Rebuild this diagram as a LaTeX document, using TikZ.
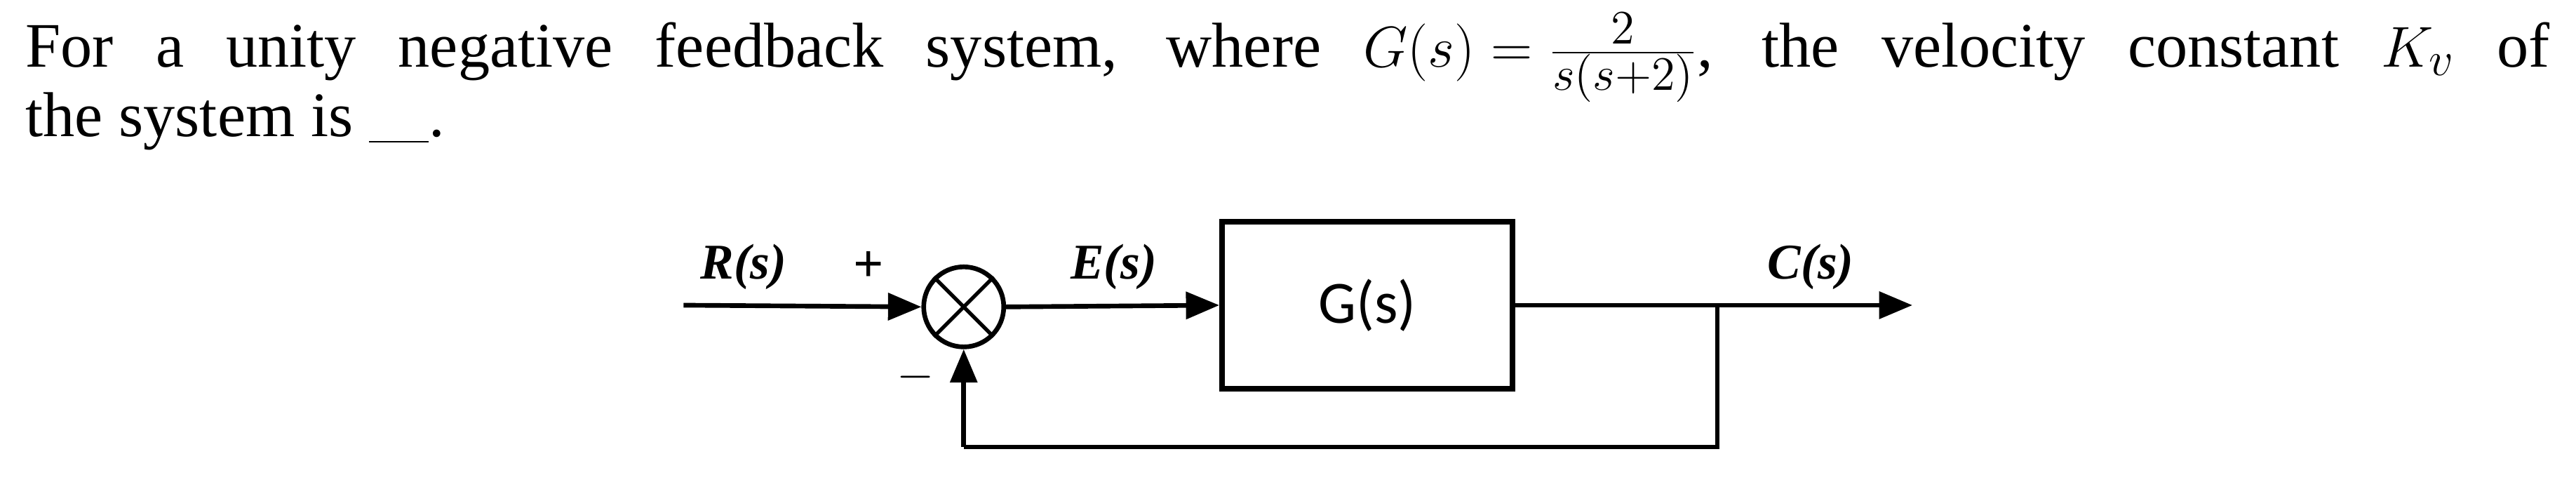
\documentclass[tikz,border=0pt]{standalone}
\usepackage{fontspec}
\setmainfont{Liberation Serif}
\newfontfamily\gfont{Carlito}
\usetikzlibrary{arrows.meta}
\begin{document}
\begin{tikzpicture}[x=0.5pt,y=-0.5pt,
  sig/.style={line width=1.4pt},
  arr/.style={sig,-{Triangle[length=10pt,width=8pt]}},
  lab/.style={font=\fontsize{15}{17}\selectfont\bfseries\itshape,inner sep=0pt}]
\useasboundingbox (0,0) rectangle (1545,296);
\node[anchor=base west,inner sep=0pt,font=\fontsize{19}{23}\selectfont] (l1) at (15,40)
  {\makebox[757pt][s]{For a unity negative feedback system, where $G(s)\mskip5mu{=}\mskip5mu\frac{2}{s(s+2)}$, the velocity constant $K_v$ of}};
\node[anchor=base west,inner sep=0pt,font=\fontsize{19}{23}\selectfont] (l2) at (15,82)
  {the system is \underline{\hspace{18pt}}.};
\node[draw,circle,line width=1.4pt,minimum size=24pt,inner sep=0pt] (sum) at (578,184) {};
\draw[line width=1.1pt] (sum.north west) -- (sum.south east) (sum.north east) -- (sum.south west);
\node[draw,line width=1.7pt,minimum width=87pt,minimum height=50pt,inner sep=0pt] (G) at (820,183)
  {\gfont\fontsize{18}{21}\selectfont G(s)};
\coordinate (in) at (410,183);
\coordinate (out) at (1147,183);
\coordinate (br) at (1030,183);
\coordinate (bb) at (1030,268);
\coordinate (bl) at (578,268);
\draw[arr] (in) -- (sum.west);
\draw[arr] (sum.east) -- (G.west);
\draw[arr] (G.east) -- (out);
\draw[sig] (br) -- (bb) -- (bl);
\draw[arr] (bl) -- (sum.south);
\node[lab] (R) at (446,160) {R(s)};
\node[lab] (E) at (668,160) {E(s)};
\node[lab] (C) at (1086,160) {C(s)};
\node[inner sep=0pt,font=\fontsize{16}{18}\selectfont\bfseries] (plus) at (521,160) {+};
\node[inner sep=0pt,font=\fontsize{14}{16}\selectfont\bfseries] (minus) at (549,226) {$-$};
\end{tikzpicture}
\end{document}
